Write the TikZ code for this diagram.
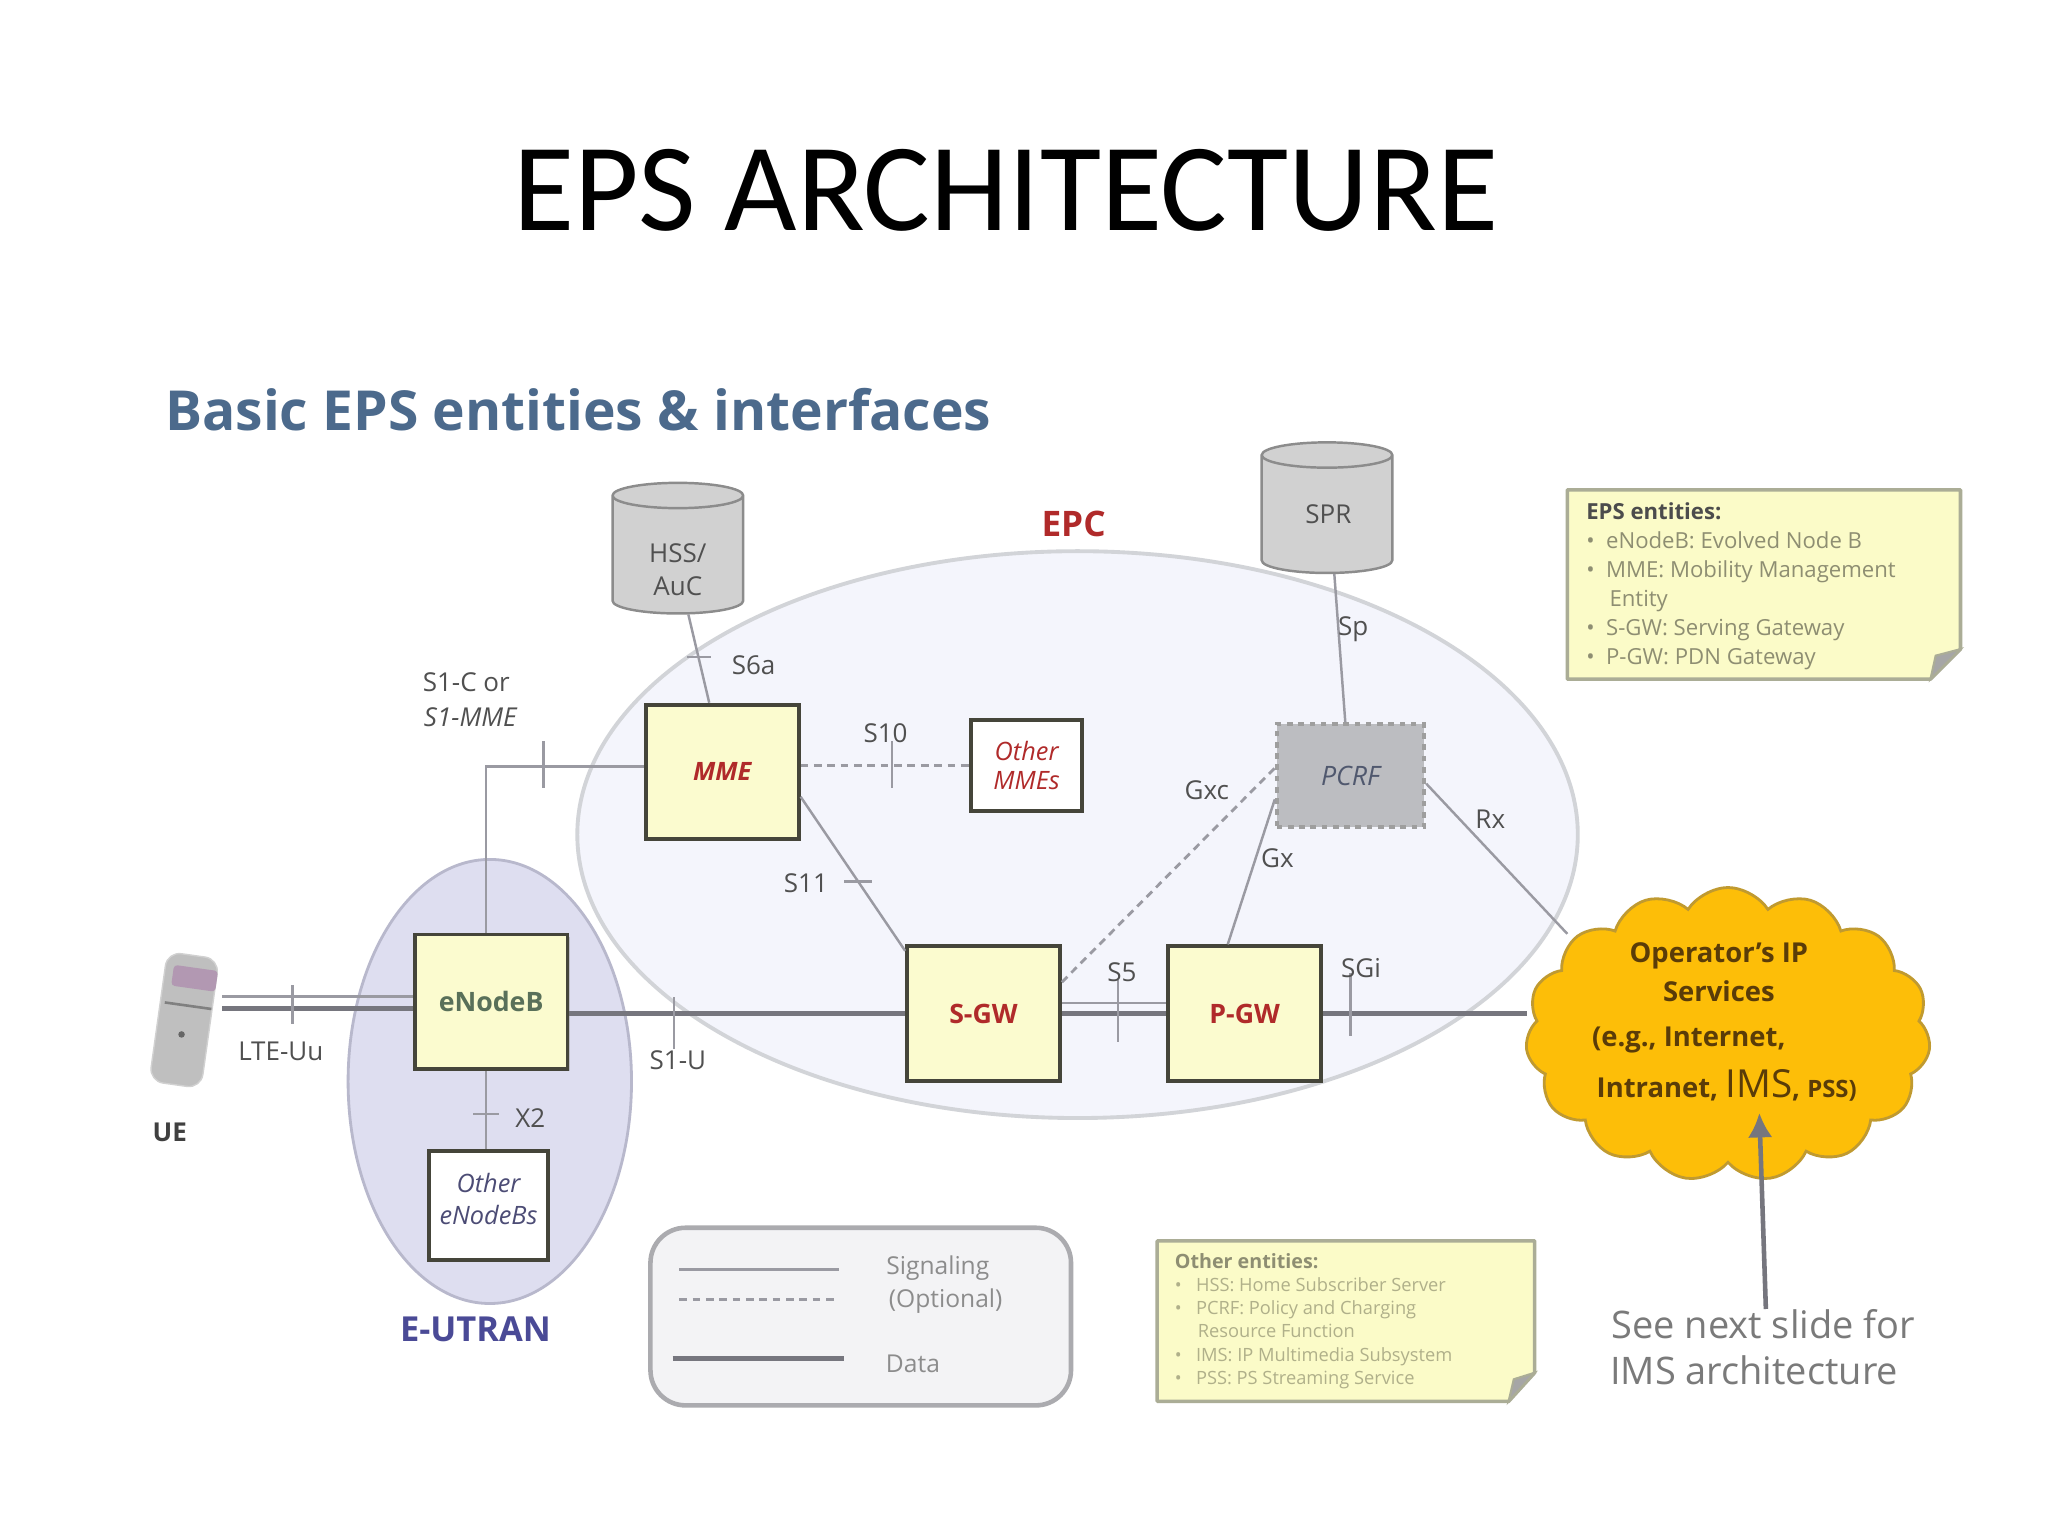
\documentclass[tikz,border=0pt]{standalone}
\usepackage{fontspec}
\setmainfont{Open Sans}
\newfontfamily\titlefont{Carlito}
\usetikzlibrary{shapes.geometric,shapes.symbols,arrows.meta,shadows}
\newdimen\uu \uu=0.01306cm
\definecolor{boxfill}{HTML}{FBFBCF}
\definecolor{boxline}{HTML}{45453A}
\definecolor{sigline}{HTML}{9A9AA2}
\definecolor{dataline}{HTML}{76767E}
\definecolor{labelc}{HTML}{505050}
\definecolor{redc}{HTML}{B02A2A}
\definecolor{notefill}{HTML}{FBFBC8}
\definecolor{noteline}{HTML}{ABAD96}
\definecolor{notetext}{HTML}{8E8E72}
\definecolor{notetextb}{HTML}{B0B08A}
\definecolor{cloudc}{HTML}{FDBE08}
\definecolor{cloudl}{HTML}{C09A30}
\definecolor{cloudt}{HTML}{5A3C08}
\definecolor{subc}{HTML}{4C6A8C}
\definecolor{epcfill}{HTML}{F4F5FC}
\definecolor{epcline}{HTML}{D2D4D8}
\definecolor{eufill}{HTML}{DEDEF0}
\definecolor{euline}{HTML}{B8B8CC}
\definecolor{eutext}{HTML}{4A4A96}
\definecolor{pcrffill}{HTML}{BCBDC1}
\definecolor{pcrftext}{HTML}{50586E}
\definecolor{legfill}{HTML}{F3F3F5}
\definecolor{legline}{HTML}{ABABAF}
\newcommand{\fs}[1]{\fontsize{#1}{#1}\selectfont}
\tikzset{
 entity/.style={draw=boxline,line width=1.1pt,fill=boxfill,minimum width=117\uu,minimum height=103\uu,inner sep=0pt,text=redc,font=\fs{7.6}\bfseries,drop shadow={shadow xshift=.6pt,shadow yshift=-.6pt,opacity=.35}},
 other/.style={draw=boxline,line width=1.1pt,fill=white,inner sep=0pt,align=center,text=redc,font=\fs{7.2}\itshape,minimum width=85\uu,minimum height=70\uu},
 db/.style={cylinder,shape border rotate=90,draw=black!45,line width=.7pt,fill=black!18,cylinder uses custom fill,cylinder end fill=black!13,cylinder body fill=black!17,aspect=.55,minimum width=100\uu,minimum height=100\uu,inner sep=0pt,align=center,text=labelc,font=\fs{7.4}},
 lab/.style={text=labelc,font=\fs{7.4},inner sep=0pt,align=center},
 sig/.style={draw=sigline,line width=.7pt},
 opt/.style={draw=sigline,line width=.8pt,dash pattern=on 2.2pt off 1.6pt},
 dat/.style={draw=dataline,line width=1.5pt},
 tickv/.style={fill=sigline,minimum width=.7pt,inner sep=0pt},
 tickh/.style={fill=sigline,minimum height=.7pt,inner sep=0pt},
 note/.style={draw=noteline,line width=1pt,fill=notefill,line join=round},
 fold/.style={draw=noteline,line width=.6pt,fill=black!35},
}
\begin{document}
\begin{tikzpicture}[x=0.01306cm,y=-0.01306cm]
\useasboundingbox (0,0) rectangle (1568,1176);
\fill[white] (0,0) rectangle (1568,1176);
\node[font=\titlefont\fs{35.6},inner sep=0pt] (title) at (770,146) {EPS ARCHITECTURE};
\node[font=\fs{15.7}\bfseries,text=subc,inner sep=0pt,anchor=west] (sub) at (126,314) {Basic EPS entities \& interfaces};
% ellipses
\node[ellipse,draw=euline,line width=.8pt,fill=eufill,minimum width=217\uu,minimum height=340\uu,inner sep=0pt] (eutran) at (375,828) {};
\node[ellipse,draw=epcline,line width=1.1pt,fill=epcfill,minimum width=766\uu,minimum height=434\uu,inner sep=0pt] (epc) at (825,639) {};
\node[font=\fs{10}\bfseries,text=redc,inner sep=0pt] (epclab) at (822,401) {EPC};
\node[font=\fs{9.8}\bfseries,text=eutext,inner sep=0pt] (eutranlab) at (364,1018) {E-UTRAN};
% nodes
\node[entity,font=\fs{7.2}\bfseries\itshape] (mme) at (553,591) {MME};
\node[entity,text=black!70!green!30!gray] (enb) at (376,767) {eNodeB};
\node[entity] (sgw) at (753,776) {S-GW};
\node[entity] (pgw) at (953,776) {P-GW};
\node[other] (omme) at (786,586) {Other\\[1pt]MMEs};
\node[other,minimum width=91\uu,minimum height=83\uu] (oenb) at (374,923) {};
\node[lab,text=black!60!blue!40!gray,font=\fs{7.2}\itshape] (oenbt) at (374,918) {Other\\[2pt]eNodeBs};
\node[draw=black!38,line width=1.1pt,dash pattern=on 1.6pt off 1.6pt,fill=pcrffill,minimum width=113\uu,minimum height=79\uu,inner sep=0pt,text=pcrftext,font=\fs{7.6}\itshape] (pcrf) at (1034,594) {PCRF};
\node[db] (hss) at (519,425) {\phantom{SPR}};
\node[lab] (hsst) at (519,436) {HSS/\\[2pt]AuC};
\node[db] (spr) at (1016,394) {\phantom{SPR}};
\node[lab] (sprt) at (1017,394) {SPR};
% cloud
\node[cloud,cloud puffs=15,cloud puff arc=115,cloud ignores aspect,draw=cloudl,line width=.8pt,fill=cloudc,minimum width=310\uu,minimum height=225\uu,inner sep=0pt] (cloud) at (1323,792) {};
\begin{scope}[every node/.style={text=cloudt,font=\fs{7.8}\bfseries,inner sep=0pt}]
\node (c1) at (1316,732) {Operator's IP};
\node (c2) at (1316,759) {Services};
\node (c3) at (1293,796) {(e.g., Internet,};
\node (c4) at (1322,831) {Intranet, {\fs{11}\mdseries IMS}, {\fs{6.8}PSS)}};
\end{scope}
% UE
\node[rectangle,rounded corners=4pt,rotate=-8,fill=black!25,draw=black!18,minimum width=40\uu,minimum height=100\uu,inner sep=0pt] (ue) at (141,781) {};
\node[rotate=-8,fill=violet!35!gray!60,rounded corners=1pt,minimum width=34\uu,minimum height=16\uu,inner sep=0pt] (uescreen) at (149,749) {};
\node[rotate=-8,fill=black!50,minimum width=36\uu,minimum height=2\uu,inner sep=0pt] (uehinge) at (144,770) {};
\node[circle,fill=black!60,minimum size=5\uu,inner sep=0pt] (uedot) at (139,792) {};
\node[font=\fs{7.4}\bfseries,text=black!75,inner sep=0pt] (uelab) at (130,867) {UE};
% connectors
\coordinate (ueA) at (170,772);
\coordinate (ueB) at (170,763);
\draw[dat] (ueA) -- (ueA -| enb.west);
\draw[sig] (ueB) -- (ueB -| enb.west);
\draw[dat] (enb.east |- sgw.west) -- (sgw.west);
\draw[dat] (sgw.east) -- (pgw.west);
\draw[sig] ([yshift=8*\uu]sgw.east) -- ([yshift=8*\uu]pgw.west);
\draw[dat] (pgw.east) -- (pgw.east -| cloud.west);
\draw[sig] ([xshift=-4*\uu]enb.north) |- ([yshift=4*\uu]mme.west);
\draw[sig] ([xshift=-4*\uu]enb.south) -- ([xshift=-4*\uu]enb.south |- oenb.north);
\draw[sig] (hss.-80) -- ([xshift=-10*\uu]mme.north);
\draw[opt] (mme.east |- omme.west) -- (omme.west);
\draw[sig] ([yshift=-19*\uu]mme.east) -- ([yshift=48*\uu]sgw.west);
\draw[opt] ([yshift=24*\uu]sgw.east) -- ([yshift=6*\uu]pcrf.west);
\draw[sig] ([xshift=-13*\uu]pgw.north) -- ([yshift=-18*\uu]pcrf.west);
\draw[sig] (spr.-83) -- ([xshift=-4*\uu]pcrf.north);
\coordinate (rxEnd) at (1200,715);
\draw[sig] ([yshift=-6*\uu]pcrf.east) -- (rxEnd);
% ticks
\node[tickv,minimum height=30\uu] (t1) at (224,769) {};
\node[tickv,minimum height=36\uu] (t2) at (416,585) {};
\node[tickv,minimum height=36\uu] (t3) at (683,585) {};
\node[tickv,minimum height=40\uu] (t4) at (516,783) {};
\node[tickv,minimum height=47\uu] (t5) at (856,774) {};
\node[tickv,minimum height=48\uu] (t6) at (1034,769) {};
\node[tickh,minimum width=18\uu] (t7) at (535,503) {};
\node[tickh,minimum width=22\uu] (t8) at (657,675) {};
\node[tickh,minimum width=20\uu] (t9) at (372,853) {};
% labels
\node[lab] (l1) at (357,522) {S1-C or};
\node[lab,font=\fs{7.4}\itshape] (l2) at (360,549) {S1-MME};
\node[lab] (l3) at (577,509) {S6a};
\node[lab] (l4) at (678,561) {S10};
\node[lab] (l5) at (617,676) {S11};
\node[lab] (l6) at (924,605) {Gxc};
\node[lab] (l7) at (978,657) {Gx};
\node[lab] (l8) at (1036,482) {Sp};
\node[lab] (l9) at (1141,627) {Rx};
\node[lab] (l10) at (859,744) {S5};
\node[lab] (l11) at (1042,741) {SGi};
\node[lab] (l12) at (519,812) {S1-U};
\node[lab] (l13) at (215,805) {LTE-Uu};
\node[lab] (l14) at (406,856) {X2};
% legend
\node[draw=legline,line width=1.3pt,fill=legfill,rounded corners=10pt,minimum width=322\uu,minimum height=136\uu,inner sep=0pt] (legend) at (659,1008) {};
\coordinate (la1) at (520,972); \coordinate (la2) at (642,972);
\coordinate (lb1) at (520,995); \coordinate (lb2) at (642,995);
\coordinate (lc1) at (515,1040); \coordinate (lc2) at (646,1040);
\draw[sig] (la1) -- (la2);
\draw[opt] (lb1) -- (lb2);
\draw[dat] (lc1) -- (lc2);
\node[lab,text=black!45,font=\fs{7}] (lg1) at (718,971) {Signaling};
\node[lab,text=black!45,font=\fs{7}] (lg2) at (724,996) {(Optional)};
\node[lab,text=black!45,font=\fs{7}] (lg3) at (699,1044) {Data};
% notes
\draw[note] (1200,375) -- (1501,375) -- (1501,497) -- (1478,520) -- (1200,520) -- cycle;
\draw[fold] (1501,497) -- (1478,520) -- (1482,502) -- cycle;
\node[anchor=north west,inner sep=0pt,align=left,text=notetext,font=\fs{6.3}] (n1) at (1214,384) {{\bfseries\color{black!70}EPS entities:}\\[1.95pt]
\textbullet\ \ eNodeB: Evolved Node B\\[1.95pt]
\textbullet\ \ MME: Mobility Management\\[1.95pt]
\hspace{1.05em}Entity\\[1.95pt]
\textbullet\ \ S-GW: Serving Gateway\\[1.95pt]
\textbullet\ \ P-GW: PDN Gateway};
\draw[note] (886,950) -- (1175,950) -- (1175,1051) -- (1155,1073) -- (886,1073) -- cycle;
\draw[fold] (1175,1051) -- (1155,1073) -- (1159,1056) -- cycle;
\node[anchor=north west,inner sep=0pt,align=left,text=notetextb,font=\fs{5.2}] (n2) at (899,959) {{\bfseries\fs{5.6}\color{notetext}Other entities:}\\[1.4pt]
\textbullet\ \ \ HSS: Home Subscriber Server\\[1.4pt]
\textbullet\ \ \ PCRF: Policy and Charging\\[1.4pt]
\hspace{1.25em}Resource Function\\[1.4pt]
\textbullet\ \ \ IMS: IP Multimedia Subsystem\\[1.4pt]
\textbullet\ \ \ PSS: PS Streaming Service};
% see next
\node[font=\fs{10.8},text=black!52,inner sep=0pt] (see1) at (1350,1014) {See next slide for};
\node[font=\fs{10.8},text=black!52,inner sep=0pt] (see2) at (1343,1049) {IMS architecture};
\draw[draw=dataline,line width=1.3pt,-{Latex[length=7pt,width=7pt]}] ([xshift=2*\uu]see1.north) -- (1347,852);
\end{tikzpicture}
\end{document}
